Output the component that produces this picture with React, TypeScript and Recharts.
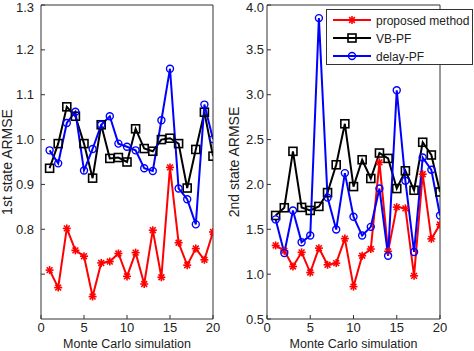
import React from 'react';
import { LineChart, Line, XAxis, YAxis, Legend } from 'recharts';

const runs = [1, 2, 3, 4, 5, 6, 7, 8, 9, 10, 11, 12, 13, 14, 15, 16, 17, 18, 19, 20];

// 1st state ARMSE
const proposed1 = [0.709, 0.67, 0.802, 0.753, 0.74, 0.65, 0.725, 0.728, 0.746, 0.695, 0.748, 0.678, 0.798, 0.693, 0.938, 0.77, 0.72, 0.757, 0.732, 0.794];
const vbpf1 = [0.936, 0.991, 1.073, 1.052, 0.991, 0.914, 1.033, 0.958, 0.96, 0.95, 1.024, 0.98, 0.974, 1.0, 1.003, 0.991, 0.892, 0.978, 1.061, 0.963];
const delay1 = [0.976, 0.947, 1.037, 1.062, 0.931, 0.979, 1.033, 1.052, 0.991, 0.984, 0.976, 0.936, 0.93, 1.043, 1.158, 0.891, 0.867, 0.811, 1.078, 1.001];

// 2nd state ARMSE
const proposed2 = [1.32, 1.26, 1.085, 1.243, 1.018, 1.29, 1.104, 1.123, 1.396, 0.861, 1.205, 1.28, 2.246, 1.254, 1.747, 1.733, 0.981, 2.114, 1.393, 1.553];
const vbpf2 = [1.654, 1.74, 2.369, 1.744, 1.71, 1.755, 1.909, 2.219, 2.676, 1.976, 2.275, 2.066, 2.35, 2.29, 1.954, 2.152, 1.935, 2.47, 2.328, 1.916];
const delay2 = [1.61, 1.236, 1.71, 1.355, 1.43, 3.854, 1.853, 1.497, 2.126, 1.64, 1.43, 1.527, 1.954, 1.205, 3.05, 2.04, 1.247, 2.3, 2.163, 1.654];

const xTicks = [0, 5, 10, 15, 20];
const leftTicks = [0.7, 0.8, 0.9, 1.0, 1.1, 1.2, 1.3];
const leftLabels = ['', '0.8', '0.9', '1.0', '1.1', '1.2', '1.3'];
const rightTicks = [0.5, 1.0, 1.5, 2.0, 2.5, 3.0, 3.5, 4.0];
const rightLabels = ['0.5', '1.0', '1.5', '2.0', '2.5', '3.0', '3.5', '4.0'];

const seriesNames = ['proposed method', 'VB-PF', 'delay-PF'];

const FONT = '"Liberation Sans", Arial, Helvetica, sans-serif';
const AXIS = '#333';
const TXT = '#222';

const data1 = runs.map((r, i) => ({ run: r, proposed: proposed1[i], vbpf: vbpf1[i], delay: delay1[i] }));
const data2 = runs.map((r, i) => ({ run: r, proposed: proposed2[i], vbpf: vbpf2[i], delay: delay2[i] }));

const Star = (p: any) => {
  const { cx, cy } = p;
  if (cx == null || cy == null) return <g key={p.index} />;
  const s = 4;
  const d = 2.9;
  return (
    <g key={p.index} stroke="#ff0000" strokeWidth={1.6}>
      <line x1={cx - s} y1={cy} x2={cx + s} y2={cy} />
      <line x1={cx} y1={cy - s} x2={cx} y2={cy + s} />
      <line x1={cx - d} y1={cy - d} x2={cx + d} y2={cy + d} />
      <line x1={cx - d} y1={cy + d} x2={cx + d} y2={cy - d} />
    </g>
  );
};

const Square = (p: any) => {
  const { cx, cy } = p;
  if (cx == null || cy == null) return <g key={p.index} />;
  return <rect key={p.index} x={cx - 4} y={cy - 4} width={8} height={8} fill="none" stroke="#000" strokeWidth={1.6} />;
};

const Circ = (p: any) => {
  const { cx, cy } = p;
  if (cx == null || cy == null) return <g key={p.index} />;
  return <circle key={p.index} cx={cx} cy={cy} r={3.5} fill="none" stroke="#0000ff" strokeWidth={1.4} />;
};

const LegendBox = () => {
  const rows = [
    { name: seriesNames[0], color: '#ff0000', y: 11, m: 'star' },
    { name: seriesNames[1], color: '#000000', y: 29, m: 'square' },
    { name: seriesNames[2], color: '#0000ff', y: 47, m: 'circle' }
  ];
  return (
    <svg width={147} height={56} style={{ display: 'block' }}>
      <rect x={0.5} y={0.5} width={146} height={55} fill="#fff" stroke={AXIS} strokeWidth={1} />
      {rows.map((r) => (
        <g key={r.name}>
          <line x1={7} y1={r.y} x2={45} y2={r.y} stroke={r.color} strokeWidth={2} />
          {r.m === 'star' && <Star cx={26} cy={r.y} index={0} />}
          {r.m === 'square' && <Square cx={26} cy={r.y} index={0} />}
          {r.m === 'circle' && <Circ cx={26} cy={r.y} index={0} />}
          <text x={50} y={r.y + 4.5} fontSize={12} fontFamily={FONT} fill={TXT}>
            {r.name}
          </text>
        </g>
      ))}
    </svg>
  );
};

const tickStyle = { fontSize: 13, fontFamily: FONT, fill: TXT };

// y tick label, kept inside the picture at the very top
const YTick = (p: any) => {
  const { x, y, payload, tickFormatter } = p;
  const label = tickFormatter ? tickFormatter(payload.value) : String(payload.value);
  return (
    <text x={x} y={Math.max(y, 7.5)} dy="0.355em" textAnchor="end" fontSize={13} fontFamily={FONT} fill={TXT}>
      {label}
    </text>
  );
};

type PanelProps = {
  data: any[];
  width: number;
  yWidth: number;
  rightMargin: number;
  domain: [number, number];
  ticks: number[];
  labels: string[];
  yLabel: string;
  yLabelOffset: number;
  yTickMargin: number;
  legend?: boolean;
};

const Panel = ({ data, width, yWidth, rightMargin, domain, ticks, labels, yLabel, yLabelOffset, yTickMargin, legend }: PanelProps) => (
  <LineChart width={width} height={351} data={data} margin={{ top: 4, right: rightMargin, bottom: 0, left: 0 }}>
    <XAxis
      dataKey="run"
      type="number"
      domain={[0, 20]}
      ticks={xTicks}
      interval={0}
      allowDataOverflow
      height={32}
      tickSize={-4}
      tickMargin={8}
      stroke={AXIS}
      tick={tickStyle}
      label={{ value: 'Monte Carlo simulation', position: 'insideBottom', offset: 2.8, fontSize: 12.5, fontFamily: FONT, fill: TXT }}
    />
    <XAxis
      xAxisId="top"
      orientation="top"
      dataKey="run"
      type="number"
      domain={[0, 20]}
      ticks={xTicks}
      interval={0}
      allowDataOverflow
      height={1}
      tickSize={-4}
      tick={false}
      stroke={AXIS}
    />
    <YAxis
      type="number"
      domain={domain}
      ticks={ticks}
      interval={0}
      allowDataOverflow
      width={yWidth}
      tickSize={-4}
      tickMargin={yTickMargin}
      stroke={AXIS}
      tick={<YTick />}
      tickFormatter={(v: number) => labels[ticks.indexOf(v)] ?? ''}
      label={{
        value: yLabel,
        angle: -90,
        position: 'insideLeft',
        offset: yLabelOffset,
        fontSize: 14,
        fontFamily: FONT,
        fill: TXT,
        style: { textAnchor: 'middle' }
      }}
    />
    <YAxis
      yAxisId="r"
      orientation="right"
      type="number"
      domain={domain}
      ticks={ticks}
      interval={0}
      allowDataOverflow
      width={1}
      tickSize={-4}
      tick={false}
      stroke={AXIS}
    />
    <Line dataKey="proposed" name={seriesNames[0]} stroke="#ff0000" strokeWidth={2} dot={Star} isAnimationActive={false} />
    <Line dataKey="vbpf" name={seriesNames[1]} stroke="#000000" strokeWidth={2} dot={Square} isAnimationActive={false} />
    <Line dataKey="delay" name={seriesNames[2]} stroke="#0000ff" strokeWidth={2} dot={Circ} isAnimationActive={false} />
    {legend && (
      <Legend
        layout="vertical"
        align="center"
        verticalAlign="middle"
        content={<LegendBox />}
        wrapperStyle={{ left: 106, top: 9, width: 147, height: 56 }}
      />
    )}
  </LineChart>
);

export default function App() {
  return (
    <div style={{ position: 'absolute', left: 0, top: 0, width: 474, height: 351, background: '#fff', overflow: 'hidden' }}>
      <div style={{ position: 'absolute', left: 0, top: 0 }}>
        <Panel
          data={data1}
          width={237}
          yWidth={41}
          rightMargin={23}
          domain={[0.6, 1.3]}
          ticks={leftTicks}
          labels={leftLabels}
          yLabel="1st state ARMSE"
          yLabelOffset={7}
          yTickMargin={11}
        />
      </div>
      <div style={{ position: 'absolute', left: 220, top: 0 }}>
        <Panel
          data={data2}
          width={254}
          yWidth={47}
          rightMargin={33}
          domain={[0.5, 4.0]}
          ticks={rightTicks}
          labels={rightLabels}
          yLabel="2nd state ARMSE"
          yLabelOffset={14}
          yTickMargin={7}
          legend
        />
      </div>
    </div>
  );
}
